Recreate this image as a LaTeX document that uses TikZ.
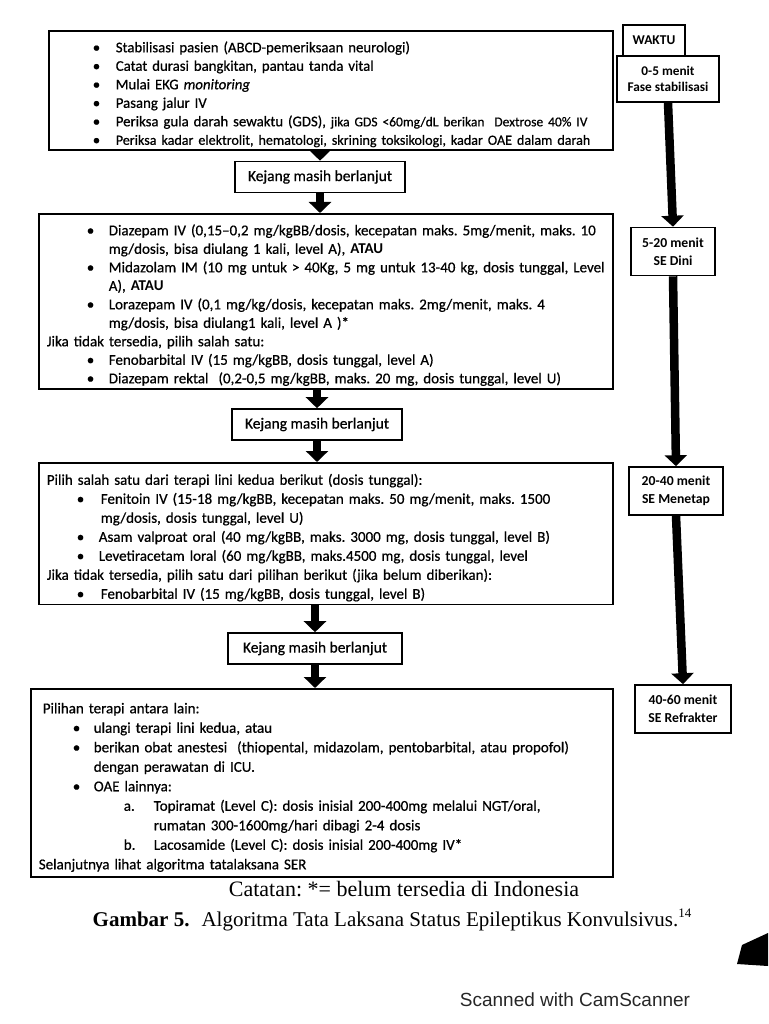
\documentclass[tikz,border=0pt]{standalone}
\usepackage{fontspec}
\setmainfont{Carlito}[UprightFeatures={FakeBold=0.6}, ItalicFeatures={FakeBold=0.6}]
\newfontfamily\capfont{Liberation Serif}
\newfontfamily\camfont{Liberation Sans}
\usetikzlibrary{arrows.meta}

\newcommand\bt[3]{\par\noindent\hspace*{#1}\makebox[\dimexpr#2-#1\relax][l]{\textbullet}#3}
\newcommand\tl[2]{\par\noindent\hspace*{#1}#2}

\tikzset{
  bigbox/.style={draw=black, line width=1.6pt, anchor=north west, inner xsep=8pt, inner ysep=3pt, align=left},
  kbox/.style={draw=black, line width=1.6pt, inner sep=0pt, minimum width=170pt, minimum height=31pt, font=\fontsize{15.5}{18}\selectfont},
  tbox/.style={draw=black, line width=1.6pt, inner sep=0pt, align=center, font=\bfseries\fontsize{13.7}{18}\selectfont},
  flowarrow/.style={line width=8pt, -{Triangle[width=22pt,length=11pt]}},
  timearrow/.style={line width=8.5pt, -{Triangle[width=22pt,length=11pt]}},
}

\begin{document}
\frenchspacing
\begin{tikzpicture}[x=1pt,y=-1pt]
\useasboundingbox (0,0) rectangle (768,1024);

% ---------- main boxes ----------
\node[bigbox, text width=548pt, minimum height=116pt, font=\fontsize{14.8}{18.5}\selectfont] (b1) at (48,30) {%
\bt{36pt}{59pt}{Stabilisasi pasien (ABCD-pemeriksaan neurologi)}
\bt{36pt}{59pt}{Catat durasi bangkitan, pantau tanda vital}
\bt{36pt}{59pt}{Mulai EKG \textit{monitoring}}
\bt{36pt}{59pt}{Pasang jalur IV}
\bt{36pt}{59pt}{Periksa gula darah sewaktu (GDS), {\fontsize{13.5}{18.5}\selectfont jika GDS <60mg/dL berikan\ \ Dextrose 40\% IV}}
\bt{36pt}{59pt}{{\fontsize{14.1}{18.5}\selectfont Periksa kadar elektrolit, hematologi, skrining toksikologi, kadar OAE dalam darah}}};

\node[bigbox, text width=558pt, minimum height=173pt, font=\fontsize{15}{18.5}\selectfont] (b2) at (38,213) {%
\bt{40pt}{62pt}{Diazepam IV (0,15–0,2 mg/kgBB/dosis, kecepatan maks. 5mg/menit, maks. 10}
\tl{62pt}{mg/dosis, bisa diulang 1 kali, level A), \textbf{ATAU}}
\bt{40pt}{62pt}{Midazolam IM (10 mg untuk > 40Kg, 5 mg untuk 13-40 kg, dosis tunggal, Level}
\tl{62pt}{A), \textbf{ATAU}}
\bt{40pt}{62pt}{Lorazepam IV (0,1 mg/kg/dosis, kecepatan maks. 2mg/menit, maks. 4}
\tl{62pt}{mg/dosis, bisa diulang1 kali, level A )*}
\tl{0pt}{Jika tidak tersedia, pilih salah satu:}
\bt{40pt}{62pt}{Fenobarbital IV (15 mg/kgBB, dosis tunggal, level A)}
\bt{40pt}{62pt}{Diazepam rektal\ \ (0,2-0,5 mg/kgBB, maks. 20 mg, dosis tunggal, level U)}};

\node[bigbox, text width=558pt, minimum height=138pt, font=\fontsize{15}{19}\selectfont] (b3) at (38,462) {%
\tl{0pt}{Pilih salah satu dari terapi lini kedua berikut (dosis tunggal):}
\bt{30pt}{54pt}{Fenitoin IV (15-18 mg/kgBB, kecepatan maks. 50 mg/menit, maks. 1500}
\tl{54pt}{mg/dosis, dosis tunggal, level U)}
\bt{30pt}{52pt}{Asam valproat oral (40 mg/kgBB, maks. 3000 mg, dosis tunggal, level B)}
\bt{30pt}{52pt}{Levetiracetam loral (60 mg/kgBB, maks.4500 mg, dosis tunggal, level}
\tl{0pt}{Jika tidak tersedia, pilih satu dari pilihan berikut (jika belum diberikan):}
\bt{30pt}{54pt}{Fenobarbital IV (15 mg/kgBB, dosis tunggal, level B)}};

\node[bigbox, text width=566pt, minimum height=188pt, font=\fontsize{15}{19.5}\selectfont] (b4) at (30,688) {%
\tl{4pt}{Pilihan terapi antara lain:}
\bt{34pt}{55pt}{ulangi terapi lini kedua, atau}
\bt{34pt}{55pt}{berikan obat anestesi\ \ (thiopental, midazolam, pentobarbital, atau propofol)}
\tl{55pt}{dengan perawatan di ICU.}
\bt{34pt}{55pt}{OAE lainnya:}
\tl{85pt}{\makebox[30pt][l]{a.}Topiramat (Level C): dosis inisial 200-400mg melalui NGT/oral,}
\tl{115pt}{rumatan 300-1600mg/hari dibagi 2-4 dosis}
\tl{85pt}{\makebox[30pt][l]{b.}Lacosamide (Level C): dosis inisial 200-400mg IV*}
\tl{0pt}{Selanjutnya lihat algoritma tatalaksana SER}};

% ---------- "Kejang masih berlanjut" ----------
\node[kbox] (k1) at (320,177) {Kejang masih berlanjut};
\node[kbox] (k2) at (317,424.5) {Kejang masih berlanjut};
\node[kbox, minimum width=174pt] (k3) at (315,648.5) {Kejang masih berlanjut};

\draw[flowarrow] (k1.north |- b1.south) -- (k1.north);
\draw[flowarrow] (k1.south) -- (k1.south |- b2.north);
\draw[flowarrow] (k2.north |- b2.south) -- (k2.north);
\draw[flowarrow] (k2.south) -- (k2.south |- b3.north);
\draw[flowarrow] (k3.north |- b3.south) -- (k3.north);
\draw[flowarrow] (k3.south) -- (k3.south |- b4.north);

% ---------- time column ----------
\node[tbox, minimum width=62pt, minimum height=31pt, font=\bfseries\fontsize{13.5}{16}\selectfont] (waktu) at (654,40.5) {WAKTU};
\node[tbox, minimum width=102pt, minimum height=46pt, font=\bfseries\fontsize{13.3}{16}\selectfont] (t0) at (668,79) {0-5 menit\\Fase stabilisasi};
\node[tbox, minimum width=84pt, minimum height=48pt] (t1) at (673,251.5) {5-20 menit\\SE Dini};
\node[tbox, minimum width=94pt, minimum height=48pt] (t2) at (676,491) {20-40 menit\\SE Menetap};
\node[tbox, minimum width=96pt, minimum height=48pt] (t3) at (683,709) {40-60 menit\\SE Refrakter};

\draw[timearrow] (t0.south) -- (t1.north);
\draw[timearrow] (t1.south) -- (t2.north);
\draw[timearrow] (t2.south) -- (t3.north);

% ---------- caption ----------
\node[font=\capfont\fontsize{22}{26}\selectfont, inner sep=0pt] (cat) at (404,889) {Catatan: *= belum tersedia di Indonesia};
\node[font=\capfont\fontsize{21}{25}\selectfont, inner sep=0pt] (gam) at (392,920) {\textbf{Gambar 5.}\hspace{12pt}Algoritma Tata Laksana Status Epileptikus Konvulsivus.{\fontsize{13}{15}\selectfont\raisebox{9pt}{14}}};

% ---------- scan edge ----------
\fill[black] (742,945) -- (768,933) -- (768,966) -- (737,964) -- cycle;
\node[font=\camfont\fontsize{19}{22}\selectfont, text=black!85, inner sep=0pt] (cam) at (575,1000) {Scanned with CamScanner};
\end{tikzpicture}
\end{document}
